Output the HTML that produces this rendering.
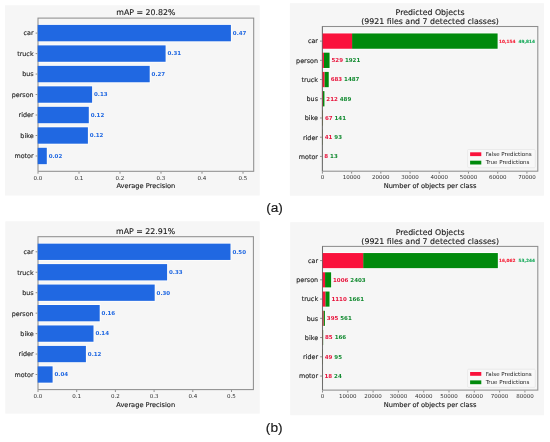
<!DOCTYPE html>
<html lang="en">
<head>
<meta charset="utf-8">
<title>mAP comparison</title>
<style>
html,body{margin:0;padding:0;background:#ffffff;}
body{width:550px;height:442px;overflow:hidden;}
svg{display:block;}
svg text{font-family:"DejaVu Sans","Liberation Sans",sans-serif;paint-order:stroke;}
svg text.k{stroke:#1c1c1c;stroke-width:0.13px;}
</style>
</head>
<body>
<svg width="550" height="442" viewBox="0 0 550 442">
<rect x="0" y="0" width="550" height="442" fill="#ffffff"/>
<rect x="5.00" y="5.30" width="254.70" height="190.20" fill="#f6f6f6" />
<rect x="38.00" y="24.00" width="193.80" height="18.20" fill="#ffffff" fill-opacity="0.75"/>
<rect x="38.00" y="44.48" width="128.50" height="18.20" fill="#ffffff" fill-opacity="0.75"/>
<rect x="38.00" y="64.96" width="112.60" height="18.20" fill="#ffffff" fill-opacity="0.75"/>
<rect x="38.00" y="85.44" width="55.00" height="18.20" fill="#ffffff" fill-opacity="0.75"/>
<rect x="38.00" y="105.92" width="51.70" height="18.20" fill="#ffffff" fill-opacity="0.75"/>
<rect x="38.00" y="126.40" width="50.80" height="18.20" fill="#ffffff" fill-opacity="0.75"/>
<rect x="38.00" y="146.88" width="9.70" height="18.20" fill="#ffffff" fill-opacity="0.75"/>
<rect x="38.00" y="18.10" width="215.70" height="153.20" fill="none" stroke="#8e8e8e" stroke-width="1.05"/>
<rect x="37.70" y="24.90" width="193.20" height="16.40" fill="#2068e2" />
<text x="232.80" y="34.90" font-size="5.53" text-anchor="start" fill="#2068e2" font-weight="bold" >0.47</text>
<rect x="37.70" y="45.38" width="127.90" height="16.40" fill="#2068e2" />
<text x="167.50" y="55.38" font-size="5.53" text-anchor="start" fill="#2068e2" font-weight="bold" >0.31</text>
<rect x="37.70" y="65.86" width="112.00" height="16.40" fill="#2068e2" />
<text x="151.60" y="75.86" font-size="5.53" text-anchor="start" fill="#2068e2" font-weight="bold" >0.27</text>
<rect x="37.70" y="86.34" width="54.40" height="16.40" fill="#2068e2" />
<text x="94.00" y="96.34" font-size="5.53" text-anchor="start" fill="#2068e2" font-weight="bold" >0.13</text>
<rect x="37.70" y="106.82" width="51.10" height="16.40" fill="#2068e2" />
<text x="90.70" y="116.82" font-size="5.53" text-anchor="start" fill="#2068e2" font-weight="bold" >0.12</text>
<rect x="37.70" y="127.30" width="50.20" height="16.40" fill="#2068e2" />
<text x="89.80" y="137.30" font-size="5.53" text-anchor="start" fill="#2068e2" font-weight="bold" >0.12</text>
<rect x="37.70" y="147.78" width="9.10" height="16.40" fill="#2068e2" />
<text x="48.70" y="157.78" font-size="5.53" text-anchor="start" fill="#2068e2" font-weight="bold" >0.02</text>
<line x1="35.60" y1="33.10" x2="37.50" y2="33.10" stroke="#8e8e8e" stroke-width="1"/>
<text x="33.60" y="35.45" font-size="6.4" text-anchor="end" fill="#1c1c1c" class="k" >car</text>
<line x1="35.60" y1="53.58" x2="37.50" y2="53.58" stroke="#8e8e8e" stroke-width="1"/>
<text x="33.60" y="55.93" font-size="6.4" text-anchor="end" fill="#1c1c1c" class="k" >truck</text>
<line x1="35.60" y1="74.06" x2="37.50" y2="74.06" stroke="#8e8e8e" stroke-width="1"/>
<text x="33.60" y="76.41" font-size="6.4" text-anchor="end" fill="#1c1c1c" class="k" >bus</text>
<line x1="35.60" y1="94.54" x2="37.50" y2="94.54" stroke="#8e8e8e" stroke-width="1"/>
<text x="33.60" y="96.89" font-size="6.4" text-anchor="end" fill="#1c1c1c" class="k" >person</text>
<line x1="35.60" y1="115.02" x2="37.50" y2="115.02" stroke="#8e8e8e" stroke-width="1"/>
<text x="33.60" y="117.37" font-size="6.4" text-anchor="end" fill="#1c1c1c" class="k" >rider</text>
<line x1="35.60" y1="135.50" x2="37.50" y2="135.50" stroke="#8e8e8e" stroke-width="1"/>
<text x="33.60" y="137.85" font-size="6.4" text-anchor="end" fill="#1c1c1c" class="k" >bike</text>
<line x1="35.60" y1="155.98" x2="37.50" y2="155.98" stroke="#8e8e8e" stroke-width="1"/>
<text x="33.60" y="158.33" font-size="6.4" text-anchor="end" fill="#1c1c1c" class="k" >motor</text>
<line x1="38.00" y1="171.80" x2="38.00" y2="173.70" stroke="#8e8e8e" stroke-width="1"/>
<text x="38.00" y="179.50" font-size="5.53" text-anchor="middle" fill="#303030" >0.0</text>
<line x1="79.00" y1="171.80" x2="79.00" y2="173.70" stroke="#8e8e8e" stroke-width="1"/>
<text x="79.00" y="179.50" font-size="5.53" text-anchor="middle" fill="#303030" >0.1</text>
<line x1="120.00" y1="171.80" x2="120.00" y2="173.70" stroke="#8e8e8e" stroke-width="1"/>
<text x="120.00" y="179.50" font-size="5.53" text-anchor="middle" fill="#303030" >0.2</text>
<line x1="161.00" y1="171.80" x2="161.00" y2="173.70" stroke="#8e8e8e" stroke-width="1"/>
<text x="161.00" y="179.50" font-size="5.53" text-anchor="middle" fill="#303030" >0.3</text>
<line x1="202.00" y1="171.80" x2="202.00" y2="173.70" stroke="#8e8e8e" stroke-width="1"/>
<text x="202.00" y="179.50" font-size="5.53" text-anchor="middle" fill="#303030" >0.4</text>
<line x1="243.00" y1="171.80" x2="243.00" y2="173.70" stroke="#8e8e8e" stroke-width="1"/>
<text x="243.00" y="179.50" font-size="5.53" text-anchor="middle" fill="#303030" >0.5</text>
<text x="145.85" y="188.20" font-size="6.63" text-anchor="middle" fill="#1c1c1c" class="k" >Average Precision</text>
<text x="145.85" y="15.30" font-size="7.85" text-anchor="middle" fill="#1c1c1c" class="k" >mAP = 20.82%</text>
<rect x="289.90" y="3.20" width="254.00" height="192.50" fill="#f6f6f6" />
<rect x="322.40" y="32.55" width="176.10" height="17.10" fill="#ffffff" fill-opacity="0.75"/>
<rect x="322.40" y="51.77" width="8.06" height="17.10" fill="#ffffff" fill-opacity="0.75"/>
<rect x="322.40" y="70.99" width="7.24" height="17.10" fill="#ffffff" fill-opacity="0.75"/>
<rect x="322.40" y="90.21" width="2.95" height="17.10" fill="#ffffff" fill-opacity="0.75"/>
<rect x="322.40" y="26.50" width="215.40" height="144.70" fill="none" stroke="#8e8e8e" stroke-width="1.05"/>
<rect x="352.07" y="33.45" width="145.54" height="15.30" fill="#008a0c" />
<rect x="322.40" y="33.45" width="29.67" height="15.30" fill="#fa123c" />
<text x="499.00" y="42.80" font-size="4.25" text-anchor="start" fill="#f62038" font-weight="bold" style="stroke:#f62038;stroke-width:0.12px">10,154</text>
<text x="518.60" y="42.80" font-size="4.25" text-anchor="start" fill="#18aa5c" font-weight="bold" style="stroke:#18aa5c;stroke-width:0.12px">49,814</text>
<rect x="323.95" y="52.67" width="5.61" height="15.30" fill="#008a0c" />
<rect x="322.40" y="52.67" width="1.55" height="15.30" fill="#fa123c" />
<text x="331.46" y="62.12" font-size="5.53" font-weight="bold" xml:space="preserve"><tspan fill="#e8143c">529</tspan><tspan fill="#128a30"> 1921</tspan></text>
<rect x="324.40" y="71.89" width="4.34" height="15.30" fill="#008a0c" />
<rect x="322.40" y="71.89" width="2.00" height="15.30" fill="#fa123c" />
<text x="330.64" y="81.34" font-size="5.53" font-weight="bold" xml:space="preserve"><tspan fill="#e8143c">683</tspan><tspan fill="#128a30"> 1487</tspan></text>
<rect x="323.02" y="91.11" width="1.43" height="15.30" fill="#008a0c" />
<rect x="322.40" y="91.11" width="0.62" height="15.30" fill="#fa123c" />
<text x="326.35" y="100.56" font-size="5.53" font-weight="bold" xml:space="preserve"><tspan fill="#e8143c">212</tspan><tspan fill="#128a30"> 489</tspan></text>
<rect x="322.60" y="110.33" width="0.41" height="15.30" fill="#008a0c" />
<rect x="322.40" y="110.33" width="0.20" height="15.30" fill="#fa123c" />
<text x="324.91" y="119.78" font-size="5.53" font-weight="bold" xml:space="preserve"><tspan fill="#e8143c">67</tspan><tspan fill="#128a30"> 141</tspan></text>
<rect x="322.52" y="129.55" width="0.27" height="15.30" fill="#008a0c" />
<rect x="322.40" y="129.55" width="0.12" height="15.30" fill="#fa123c" />
<text x="324.69" y="139.00" font-size="5.53" font-weight="bold" xml:space="preserve"><tspan fill="#e8143c">41</tspan><tspan fill="#128a30"> 93</tspan></text>
<rect x="322.42" y="148.77" width="0.04" height="15.30" fill="#008a0c" />
<rect x="322.40" y="148.77" width="0.02" height="15.30" fill="#fa123c" />
<text x="324.36" y="158.22" font-size="5.53" font-weight="bold" xml:space="preserve"><tspan fill="#e8143c">8</tspan><tspan fill="#128a30"> 13</tspan></text>
<line x1="322.40" y1="26.50" x2="322.40" y2="171.20" stroke="#555555" stroke-width="1" stroke-opacity="0.55"/>
<rect x="467.6" y="149.50" width="67.70" height="18.20" rx="1" fill="#f8f8f8" stroke="#e2e2e2" stroke-width="0.6"/>
<rect x="470.10" y="152.30" width="11.20" height="3.80" fill="#fa123c" />
<rect x="470.10" y="160.70" width="11.20" height="3.80" fill="#008a0c" />
<text x="485.70" y="156.00" font-size="5.53" text-anchor="start" fill="#1e1e1e" >False Predictions</text>
<text x="485.70" y="164.30" font-size="5.53" text-anchor="start" fill="#1e1e1e" >True Predictions</text>
<line x1="320.00" y1="41.10" x2="321.90" y2="41.10" stroke="#8e8e8e" stroke-width="1"/>
<text x="318.00" y="43.45" font-size="6.4" text-anchor="end" fill="#1c1c1c" class="k" >car</text>
<line x1="320.00" y1="60.32" x2="321.90" y2="60.32" stroke="#8e8e8e" stroke-width="1"/>
<text x="318.00" y="62.67" font-size="6.4" text-anchor="end" fill="#1c1c1c" class="k" >person</text>
<line x1="320.00" y1="79.54" x2="321.90" y2="79.54" stroke="#8e8e8e" stroke-width="1"/>
<text x="318.00" y="81.89" font-size="6.4" text-anchor="end" fill="#1c1c1c" class="k" >truck</text>
<line x1="320.00" y1="98.76" x2="321.90" y2="98.76" stroke="#8e8e8e" stroke-width="1"/>
<text x="318.00" y="101.11" font-size="6.4" text-anchor="end" fill="#1c1c1c" class="k" >bus</text>
<line x1="320.00" y1="117.98" x2="321.90" y2="117.98" stroke="#8e8e8e" stroke-width="1"/>
<text x="318.00" y="120.33" font-size="6.4" text-anchor="end" fill="#1c1c1c" class="k" >bike</text>
<line x1="320.00" y1="137.20" x2="321.90" y2="137.20" stroke="#8e8e8e" stroke-width="1"/>
<text x="318.00" y="139.55" font-size="6.4" text-anchor="end" fill="#1c1c1c" class="k" >rider</text>
<line x1="320.00" y1="156.42" x2="321.90" y2="156.42" stroke="#8e8e8e" stroke-width="1"/>
<text x="318.00" y="158.77" font-size="6.4" text-anchor="end" fill="#1c1c1c" class="k" >motor</text>
<line x1="322.40" y1="171.70" x2="322.40" y2="173.60" stroke="#8e8e8e" stroke-width="1"/>
<text x="322.40" y="179.40" font-size="5.53" text-anchor="middle" fill="#303030" >0</text>
<line x1="351.62" y1="171.70" x2="351.62" y2="173.60" stroke="#8e8e8e" stroke-width="1"/>
<text x="351.62" y="179.40" font-size="5.53" text-anchor="middle" fill="#303030" >10000</text>
<line x1="380.83" y1="171.70" x2="380.83" y2="173.60" stroke="#8e8e8e" stroke-width="1"/>
<text x="380.83" y="179.40" font-size="5.53" text-anchor="middle" fill="#303030" >20000</text>
<line x1="410.05" y1="171.70" x2="410.05" y2="173.60" stroke="#8e8e8e" stroke-width="1"/>
<text x="410.05" y="179.40" font-size="5.53" text-anchor="middle" fill="#303030" >30000</text>
<line x1="439.26" y1="171.70" x2="439.26" y2="173.60" stroke="#8e8e8e" stroke-width="1"/>
<text x="439.26" y="179.40" font-size="5.53" text-anchor="middle" fill="#303030" >40000</text>
<line x1="468.48" y1="171.70" x2="468.48" y2="173.60" stroke="#8e8e8e" stroke-width="1"/>
<text x="468.48" y="179.40" font-size="5.53" text-anchor="middle" fill="#303030" >50000</text>
<line x1="497.70" y1="171.70" x2="497.70" y2="173.60" stroke="#8e8e8e" stroke-width="1"/>
<text x="497.70" y="179.40" font-size="5.53" text-anchor="middle" fill="#303030" >60000</text>
<line x1="526.91" y1="171.70" x2="526.91" y2="173.60" stroke="#8e8e8e" stroke-width="1"/>
<text x="526.91" y="179.40" font-size="5.53" text-anchor="middle" fill="#303030" >70000</text>
<text x="430.10" y="188.10" font-size="6.63" text-anchor="middle" fill="#1c1c1c" class="k" >Number of objects per class</text>
<text x="430.10" y="14.70" font-size="7.85" text-anchor="middle" fill="#1c1c1c" class="k" >Predicted Objects</text>
<text x="430.10" y="23.70" font-size="7.85" text-anchor="middle" fill="#1c1c1c" class="k" >(9921 files and 7 detected classes)</text>
<rect x="5.30" y="221.30" width="254.40" height="192.30" fill="#f6f6f6" />
<rect x="38.00" y="242.75" width="193.40" height="18.10" fill="#ffffff" fill-opacity="0.75"/>
<rect x="38.00" y="263.20" width="130.00" height="18.10" fill="#ffffff" fill-opacity="0.75"/>
<rect x="38.00" y="283.65" width="117.60" height="18.10" fill="#ffffff" fill-opacity="0.75"/>
<rect x="38.00" y="304.10" width="62.60" height="18.10" fill="#ffffff" fill-opacity="0.75"/>
<rect x="38.00" y="324.55" width="56.40" height="18.10" fill="#ffffff" fill-opacity="0.75"/>
<rect x="38.00" y="345.00" width="48.80" height="18.10" fill="#ffffff" fill-opacity="0.75"/>
<rect x="38.00" y="365.45" width="15.50" height="18.10" fill="#ffffff" fill-opacity="0.75"/>
<rect x="38.00" y="236.70" width="215.40" height="152.90" fill="none" stroke="#8e8e8e" stroke-width="1.05"/>
<rect x="37.70" y="243.65" width="192.80" height="16.30" fill="#2068e2" />
<text x="232.40" y="253.60" font-size="5.53" text-anchor="start" fill="#2068e2" font-weight="bold" >0.50</text>
<rect x="37.70" y="264.10" width="129.40" height="16.30" fill="#2068e2" />
<text x="169.00" y="274.05" font-size="5.53" text-anchor="start" fill="#2068e2" font-weight="bold" >0.33</text>
<rect x="37.70" y="284.55" width="117.00" height="16.30" fill="#2068e2" />
<text x="156.60" y="294.50" font-size="5.53" text-anchor="start" fill="#2068e2" font-weight="bold" >0.30</text>
<rect x="37.70" y="305.00" width="62.00" height="16.30" fill="#2068e2" />
<text x="101.60" y="314.95" font-size="5.53" text-anchor="start" fill="#2068e2" font-weight="bold" >0.16</text>
<rect x="37.70" y="325.45" width="55.80" height="16.30" fill="#2068e2" />
<text x="95.40" y="335.40" font-size="5.53" text-anchor="start" fill="#2068e2" font-weight="bold" >0.14</text>
<rect x="37.70" y="345.90" width="48.20" height="16.30" fill="#2068e2" />
<text x="87.80" y="355.85" font-size="5.53" text-anchor="start" fill="#2068e2" font-weight="bold" >0.12</text>
<rect x="37.70" y="366.35" width="14.90" height="16.30" fill="#2068e2" />
<text x="54.50" y="376.30" font-size="5.53" text-anchor="start" fill="#2068e2" font-weight="bold" >0.04</text>
<line x1="35.60" y1="251.80" x2="37.50" y2="251.80" stroke="#8e8e8e" stroke-width="1"/>
<text x="33.60" y="254.15" font-size="6.4" text-anchor="end" fill="#1c1c1c" class="k" >car</text>
<line x1="35.60" y1="272.25" x2="37.50" y2="272.25" stroke="#8e8e8e" stroke-width="1"/>
<text x="33.60" y="274.60" font-size="6.4" text-anchor="end" fill="#1c1c1c" class="k" >truck</text>
<line x1="35.60" y1="292.70" x2="37.50" y2="292.70" stroke="#8e8e8e" stroke-width="1"/>
<text x="33.60" y="295.05" font-size="6.4" text-anchor="end" fill="#1c1c1c" class="k" >bus</text>
<line x1="35.60" y1="313.15" x2="37.50" y2="313.15" stroke="#8e8e8e" stroke-width="1"/>
<text x="33.60" y="315.50" font-size="6.4" text-anchor="end" fill="#1c1c1c" class="k" >person</text>
<line x1="35.60" y1="333.60" x2="37.50" y2="333.60" stroke="#8e8e8e" stroke-width="1"/>
<text x="33.60" y="335.95" font-size="6.4" text-anchor="end" fill="#1c1c1c" class="k" >bike</text>
<line x1="35.60" y1="354.05" x2="37.50" y2="354.05" stroke="#8e8e8e" stroke-width="1"/>
<text x="33.60" y="356.40" font-size="6.4" text-anchor="end" fill="#1c1c1c" class="k" >rider</text>
<line x1="35.60" y1="374.50" x2="37.50" y2="374.50" stroke="#8e8e8e" stroke-width="1"/>
<text x="33.60" y="376.85" font-size="6.4" text-anchor="end" fill="#1c1c1c" class="k" >motor</text>
<line x1="38.00" y1="390.10" x2="38.00" y2="392.00" stroke="#8e8e8e" stroke-width="1"/>
<text x="38.00" y="397.80" font-size="5.53" text-anchor="middle" fill="#303030" >0.0</text>
<line x1="76.70" y1="390.10" x2="76.70" y2="392.00" stroke="#8e8e8e" stroke-width="1"/>
<text x="76.70" y="397.80" font-size="5.53" text-anchor="middle" fill="#303030" >0.1</text>
<line x1="115.40" y1="390.10" x2="115.40" y2="392.00" stroke="#8e8e8e" stroke-width="1"/>
<text x="115.40" y="397.80" font-size="5.53" text-anchor="middle" fill="#303030" >0.2</text>
<line x1="154.10" y1="390.10" x2="154.10" y2="392.00" stroke="#8e8e8e" stroke-width="1"/>
<text x="154.10" y="397.80" font-size="5.53" text-anchor="middle" fill="#303030" >0.3</text>
<line x1="192.80" y1="390.10" x2="192.80" y2="392.00" stroke="#8e8e8e" stroke-width="1"/>
<text x="192.80" y="397.80" font-size="5.53" text-anchor="middle" fill="#303030" >0.4</text>
<line x1="231.50" y1="390.10" x2="231.50" y2="392.00" stroke="#8e8e8e" stroke-width="1"/>
<text x="231.50" y="397.80" font-size="5.53" text-anchor="middle" fill="#303030" >0.5</text>
<text x="145.70" y="406.50" font-size="6.63" text-anchor="middle" fill="#1c1c1c" class="k" >Average Precision</text>
<text x="145.70" y="233.90" font-size="7.85" text-anchor="middle" fill="#1c1c1c" class="k" >mAP = 22.91%</text>
<rect x="290.20" y="222.20" width="253.80" height="193.00" fill="#f6f6f6" />
<rect x="322.50" y="252.15" width="176.24" height="16.90" fill="#ffffff" fill-opacity="0.75"/>
<rect x="322.50" y="271.39" width="9.52" height="16.90" fill="#ffffff" fill-opacity="0.75"/>
<rect x="322.50" y="290.63" width="7.91" height="16.90" fill="#ffffff" fill-opacity="0.75"/>
<rect x="322.50" y="309.87" width="3.32" height="16.90" fill="#ffffff" fill-opacity="0.75"/>
<rect x="322.50" y="246.40" width="215.30" height="143.70" fill="none" stroke="#8e8e8e" stroke-width="1.05"/>
<rect x="363.14" y="253.05" width="134.71" height="15.10" fill="#008a0c" />
<rect x="322.50" y="253.05" width="40.64" height="15.10" fill="#fa123c" />
<text x="499.00" y="262.30" font-size="4.25" text-anchor="start" fill="#f62038" font-weight="bold" style="stroke:#f62038;stroke-width:0.12px">16,062</text>
<text x="518.60" y="262.30" font-size="4.25" text-anchor="start" fill="#18aa5c" font-weight="bold" style="stroke:#18aa5c;stroke-width:0.12px">53,244</text>
<rect x="325.05" y="272.29" width="6.08" height="15.10" fill="#008a0c" />
<rect x="322.50" y="272.29" width="2.55" height="15.10" fill="#fa123c" />
<text x="333.02" y="281.64" font-size="5.53" font-weight="bold" xml:space="preserve"><tspan fill="#e8143c">1006</tspan><tspan fill="#128a30"> 2403</tspan></text>
<rect x="325.31" y="291.53" width="4.20" height="15.10" fill="#008a0c" />
<rect x="322.50" y="291.53" width="2.81" height="15.10" fill="#fa123c" />
<text x="331.41" y="300.88" font-size="5.53" font-weight="bold" xml:space="preserve"><tspan fill="#e8143c">1110</tspan><tspan fill="#128a30"> 1661</tspan></text>
<rect x="323.50" y="310.77" width="1.42" height="15.10" fill="#008a0c" />
<rect x="322.50" y="310.77" width="1.00" height="15.10" fill="#fa123c" />
<text x="326.82" y="320.12" font-size="5.53" font-weight="bold" xml:space="preserve"><tspan fill="#e8143c">395</tspan><tspan fill="#128a30"> 561</tspan></text>
<rect x="322.72" y="330.01" width="0.42" height="15.10" fill="#008a0c" />
<rect x="322.50" y="330.01" width="0.22" height="15.10" fill="#fa123c" />
<text x="325.04" y="339.36" font-size="5.53" font-weight="bold" xml:space="preserve"><tspan fill="#e8143c">85</tspan><tspan fill="#128a30"> 166</tspan></text>
<rect x="322.62" y="349.25" width="0.24" height="15.10" fill="#008a0c" />
<rect x="322.50" y="349.25" width="0.12" height="15.10" fill="#fa123c" />
<text x="324.76" y="358.60" font-size="5.53" font-weight="bold" xml:space="preserve"><tspan fill="#e8143c">49</tspan><tspan fill="#128a30"> 95</tspan></text>
<rect x="322.55" y="368.49" width="0.06" height="15.10" fill="#008a0c" />
<rect x="322.50" y="368.49" width="0.05" height="15.10" fill="#fa123c" />
<text x="324.51" y="377.84" font-size="5.53" font-weight="bold" xml:space="preserve"><tspan fill="#e8143c">18</tspan><tspan fill="#128a30"> 24</tspan></text>
<line x1="322.50" y1="246.40" x2="322.50" y2="390.10" stroke="#555555" stroke-width="1" stroke-opacity="0.55"/>
<rect x="467.6" y="369.20" width="67.70" height="18.20" rx="1" fill="#f8f8f8" stroke="#e2e2e2" stroke-width="0.6"/>
<rect x="470.10" y="372.00" width="11.20" height="3.80" fill="#fa123c" />
<rect x="470.10" y="380.40" width="11.20" height="3.80" fill="#008a0c" />
<text x="485.70" y="375.70" font-size="5.53" text-anchor="start" fill="#1e1e1e" >False Predictions</text>
<text x="485.70" y="384.00" font-size="5.53" text-anchor="start" fill="#1e1e1e" >True Predictions</text>
<line x1="320.10" y1="260.60" x2="322.00" y2="260.60" stroke="#8e8e8e" stroke-width="1"/>
<text x="318.10" y="262.95" font-size="6.4" text-anchor="end" fill="#1c1c1c" class="k" >car</text>
<line x1="320.10" y1="279.84" x2="322.00" y2="279.84" stroke="#8e8e8e" stroke-width="1"/>
<text x="318.10" y="282.19" font-size="6.4" text-anchor="end" fill="#1c1c1c" class="k" >person</text>
<line x1="320.10" y1="299.08" x2="322.00" y2="299.08" stroke="#8e8e8e" stroke-width="1"/>
<text x="318.10" y="301.43" font-size="6.4" text-anchor="end" fill="#1c1c1c" class="k" >truck</text>
<line x1="320.10" y1="318.32" x2="322.00" y2="318.32" stroke="#8e8e8e" stroke-width="1"/>
<text x="318.10" y="320.67" font-size="6.4" text-anchor="end" fill="#1c1c1c" class="k" >bus</text>
<line x1="320.10" y1="337.56" x2="322.00" y2="337.56" stroke="#8e8e8e" stroke-width="1"/>
<text x="318.10" y="339.91" font-size="6.4" text-anchor="end" fill="#1c1c1c" class="k" >bike</text>
<line x1="320.10" y1="356.80" x2="322.00" y2="356.80" stroke="#8e8e8e" stroke-width="1"/>
<text x="318.10" y="359.15" font-size="6.4" text-anchor="end" fill="#1c1c1c" class="k" >rider</text>
<line x1="320.10" y1="376.04" x2="322.00" y2="376.04" stroke="#8e8e8e" stroke-width="1"/>
<text x="318.10" y="378.39" font-size="6.4" text-anchor="end" fill="#1c1c1c" class="k" >motor</text>
<line x1="322.50" y1="390.60" x2="322.50" y2="392.50" stroke="#8e8e8e" stroke-width="1"/>
<text x="322.50" y="398.30" font-size="5.53" text-anchor="middle" fill="#303030" >0</text>
<line x1="347.80" y1="390.60" x2="347.80" y2="392.50" stroke="#8e8e8e" stroke-width="1"/>
<text x="347.80" y="398.30" font-size="5.53" text-anchor="middle" fill="#303030" >10000</text>
<line x1="373.10" y1="390.60" x2="373.10" y2="392.50" stroke="#8e8e8e" stroke-width="1"/>
<text x="373.10" y="398.30" font-size="5.53" text-anchor="middle" fill="#303030" >20000</text>
<line x1="398.40" y1="390.60" x2="398.40" y2="392.50" stroke="#8e8e8e" stroke-width="1"/>
<text x="398.40" y="398.30" font-size="5.53" text-anchor="middle" fill="#303030" >30000</text>
<line x1="423.70" y1="390.60" x2="423.70" y2="392.50" stroke="#8e8e8e" stroke-width="1"/>
<text x="423.70" y="398.30" font-size="5.53" text-anchor="middle" fill="#303030" >40000</text>
<line x1="449.00" y1="390.60" x2="449.00" y2="392.50" stroke="#8e8e8e" stroke-width="1"/>
<text x="449.00" y="398.30" font-size="5.53" text-anchor="middle" fill="#303030" >50000</text>
<line x1="474.30" y1="390.60" x2="474.30" y2="392.50" stroke="#8e8e8e" stroke-width="1"/>
<text x="474.30" y="398.30" font-size="5.53" text-anchor="middle" fill="#303030" >60000</text>
<line x1="499.60" y1="390.60" x2="499.60" y2="392.50" stroke="#8e8e8e" stroke-width="1"/>
<text x="499.60" y="398.30" font-size="5.53" text-anchor="middle" fill="#303030" >70000</text>
<line x1="524.90" y1="390.60" x2="524.90" y2="392.50" stroke="#8e8e8e" stroke-width="1"/>
<text x="524.90" y="398.30" font-size="5.53" text-anchor="middle" fill="#303030" >80000</text>
<text x="430.15" y="407.00" font-size="6.63" text-anchor="middle" fill="#1c1c1c" class="k" >Number of objects per class</text>
<text x="430.15" y="234.60" font-size="7.85" text-anchor="middle" fill="#1c1c1c" class="k" >Predicted Objects</text>
<text x="430.15" y="243.60" font-size="7.85" text-anchor="middle" fill="#1c1c1c" class="k" >(9921 files and 7 detected classes)</text>
<text x="274.5" y="212.4" font-size="13.7" text-anchor="middle" fill="#1a1a1a" style="font-family:'Liberation Sans',Arial,sans-serif;stroke:#1a1a1a;stroke-width:0.2px">(a)</text>
<text x="274.2" y="431.7" font-size="13.7" text-anchor="middle" fill="#1a1a1a" style="font-family:'Liberation Sans',Arial,sans-serif;stroke:#1a1a1a;stroke-width:0.2px">(b)</text>
</svg>
</body>
</html>
